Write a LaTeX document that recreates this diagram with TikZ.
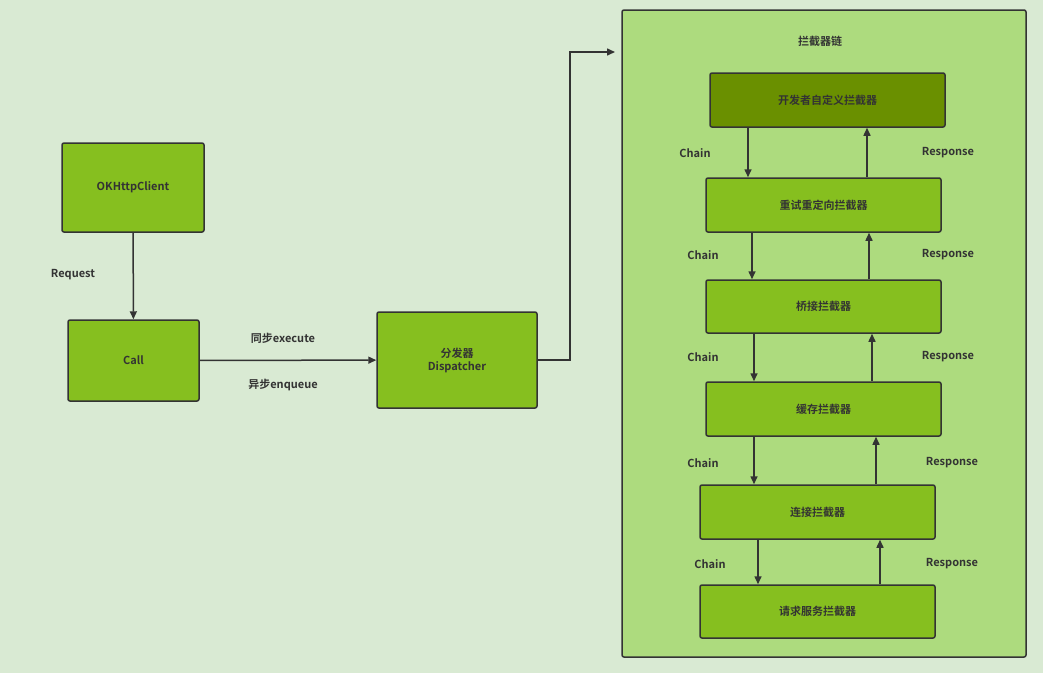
\documentclass[tikz,border=0pt]{standalone}
\usepackage{fontspec}
\setmainfont{Noto Sans CJK SC}[BoldFont={Noto Sans CJK SC Bold}]
\usetikzlibrary{arrows.meta}
\definecolor{bg}{HTML}{D9EAD3}
\definecolor{box}{HTML}{86BF1F}
\definecolor{dark}{HTML}{6A9000}
\definecolor{cont}{HTML}{ADDB7E}
\definecolor{ink}{HTML}{333333}
\tikzset{
 b/.style={draw=ink,line width=1.5pt,rounded corners=2pt,fill=box,font=\bfseries\fontsize{11}{13}\selectfont,text=ink,align=center,inner sep=0},
 a/.style={draw=ink,line width=1.5pt,-{Triangle[length=8pt,width=7pt]}},
 l/.style={font=\bfseries\fontsize{11}{13}\selectfont,text=ink}
}
\newcommand{\bx}[6]{\node[b,minimum width={#4-#2},minimum height={#5-#3}#6] (#1) at ({(#2+#4)/2},{-(#3+#5)/2}) {\strut};}
\begin{document}
\begin{tikzpicture}[x=1pt,y=1pt]
\fill[bg] (0,0) rectangle (1043,-673);
\useasboundingbox (0,0) rectangle (1043,-673);
\node[b,fill=cont,minimum width=404,minimum height=647] (c) at (824,-333.5) {};
\node[l] (t) at (820,-41) {拦截器链};
\node[b,minimum width=142,minimum height=89] (ok) at (133,-187.5) {OKHttpClient};
\node[b,minimum width=131,minimum height=81] (call) at (133.5,-360.5) {Call};
\node[b,minimum width=160,minimum height=96] (d) at (457,-360) {分发器\\Dispatcher};
\node[b,fill=dark,minimum width=235,minimum height=54] (i1) at (827.5,-100) {开发者自定义拦截器};
\node[b,minimum width=235,minimum height=54] (i2) at (823.5,-205) {重试重定向拦截器};
\node[b,minimum width=235,minimum height=53] (i3) at (823.5,-306.5) {桥接拦截器};
\node[b,minimum width=235,minimum height=54] (i4) at (823.5,-409) {缓存拦截器};
\node[b,minimum width=235,minimum height=54] (i5) at (817.5,-512) {连接拦截器};
\node[b,minimum width=235,minimum height=53] (i6) at (817.5,-611.5) {请求服务拦截器};
\coordinate (e) at (615,-52);
\draw[a] (ok) -- (call);
\node[l] at (73,-275) {Request};
\draw[a] (call) -- (d);
\node[l] at (283,-338) {同步execute};
\node[l] at (283,-385) {异步enqueue};
\draw[a] (d.east) -- (570,-360) |- (e);
\foreach \u/\v/\xd/\xu/\yc/\lc/\lr in {i1/i2/748/867/153/695/948, i2/i3/752/869/255/703/948, i3/i4/754/872/357/703/948, i4/i5/754/876/463/703/952, i5/i6/758/880/564/710/952}{
 \draw[a] (\u.south -| \xd,0) -- (\v.north -| \xd,0);
 \draw[a] (\v.north -| \xu,0) -- (\u.south -| \xu,0);
 \node[l] at (\lc,-\yc) {Chain};
 \node[l] at (\lr,-\yc) {Response};
}
\end{tikzpicture}
\end{document}
